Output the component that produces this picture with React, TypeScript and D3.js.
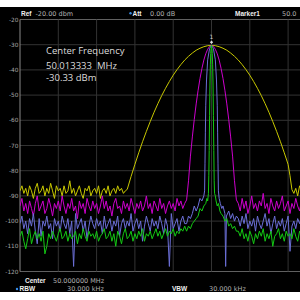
import React from "react";
import * as d3 from "d3";

// ---- Axis / tick data ----
const dbTicks = [-20, -30, -40, -50, -60, -70, -80, -90, -100, -110, -120];
const freqGrid = [-500, -400, -300, -200, -100, 0, 100, 200, 300, 400, 500];

// ---- Trace data (offset from center in kHz, level in dBm) ----
// noise samples every 5 kHz
const yellowLeft = [
  -88,-86,-89,-87,-90,-86,-88,-91,-87,-85,-89,-88,-86,-90,-87,-89,-85,-88,-91,-86,
  -88,-87,-90,-86,-89,-88,-84,-89,-87,-90,-88,-86,-89,-91,-87,-88,-86,-90,-88,-87,
  -89,-86,-91,-88,-87,-89,-86,-90,-88,-87,-89,-86,-88,-87,-89,-88,
];
const yellowPeak: [number, number][] = [
  [-220,-87.4],[-210,-82.3],[-200,-77.5],[-190,-72.9],[-180,-68.5],[-170,-64.4],[-160,-60.5],
  [-150,-56.8],[-140,-53.4],[-130,-50.2],[-120,-47.3],[-110,-44.6],[-100,-42.1],[-90,-39.9],
  [-80,-37.9],[-70,-36.1],[-60,-34.6],[-50,-33.3],[-40,-32.2],[-30,-31.4],[-20,-30.8],[-10,-30.4],
  [0,-30.3],[10,-30.4],[20,-30.8],[30,-31.4],[40,-32.2],[50,-33.3],[60,-34.6],[70,-36.1],
  [80,-37.9],[90,-39.9],[100,-42.1],[110,-44.6],[120,-47.3],[130,-50.2],[140,-53.4],[150,-56.8],
  [160,-60.5],[170,-64.4],[180,-68.5],[190,-72.9],[200,-77.5],[205,-82],[210,-87.5],
];
const yellowRight = [-89,-87,-90,-86,-88,-89];

const magentaLeft = [
  -94,-91,-96,-93,-97,-92,-95,-98,-93,-90,-96,-94,-92,-97,-95,-91,-94,-98,-93,-95,
  -92,-96,-90,-94,-97,-93,-95,-91,-96,-94,-99,-92,-95,-93,-97,-91,-94,-96,-92,-95,
  -93,-97,-94,-90,-95,-92,-96,-94,-98,-93,-91,-95,-94,-97,-92,-95,-93,-96,-91,-94,
  -97,-93,-95,-92,-96,-94,-90,-95,-93,-97,-92,-94,-96,-91,-95,-93,-97,-94,-92,-95,
  -93,-96,-91,-94,-92,-95,-93,
];
const magentaPeak: [number, number][] = [
  [-65,-91.6],[-60,-84],[-55,-74.2],[-50,-66.6],[-45,-59.7],[-40,-53.5],[-35,-48.1],[-30,-43.4],
  [-25,-39.4],[-20,-36.1],[-15,-33.6],[-10,-31.8],[-5,-30.7],[0,-30.3],[5,-30.7],[10,-31.8],
  [15,-33.6],[20,-36.1],[25,-39.4],[30,-43.4],[35,-48.1],[40,-53.5],[45,-59.7],[50,-66.6],
  [55,-74.2],[60,-84],[65,-91.6],
];
const magentaRight = [
  -93,-96,-91,-95,-92,-97,-94,-90,-95,-93,-96,-92,-94,-89,-95,-93,-97,-91,-94,-96,
  -92,-95,-93,-90,-96,-94,-92,-97,-93,-95,-91,-94,-96,-92,-95,
];

const blueLeft = [
  -101,-98,-103,-100,-105,-99,-102,-97,-104,-109,-99,-106,-100,-102,-98,-103,-101,-107,-99,-102,
  -100,-104,-98,-101,-103,-99,-105,-100,-118,-97,-103,-101,-99,-104,-100,-107,-102,-98,-101,-103,
  -99,-102,-100,-105,-98,-103,-101,-99,-104,-100,-102,-98,-106,-101,-99,-103,-100,-102,-97,-104,
  -101,-99,-103,-100,-108,-102,-98,-101,-104,-99,-102,-100,-103,-98,-101,-105,-99,-102,-118,-97,
  -103,-101,-99,-104,-100,-98,-101,
];
const bluePeak: [number, number][] = [
  [-65,-101],[-60,-98],[-55,-99],[-50,-97],[-45,-94],[-40,-96],[-35,-94],[-30,-91],[-25,-92],
  [-20,-90],[-18,-88],[-17,-77],[-16,-65],[-15,-54],[-13,-44],[-10,-36],[-5,-31.5],[0,-30.3],
  [5,-31.5],[10,-36],[13,-44],[15,-54],[16,-65],[17,-77],[18,-88],[20,-91],[23,-93],[27,-95],
  [30,-94],[35,-97],[37,-118],[39,-98],[45,-96],[50,-99],[55,-97],[60,-100],[65,-98],
];
const blueRight = [
  -99,-102,-98,-101,-97,-103,-100,-102,-99,-104,-98,-101,-103,-100,-97,-102,-99,-105,-101,-98,
  -103,-100,-102,-99,-104,-101,-98,-112,-102,-100,-103,-99,-101,-98,-102,
];

const greenLeft = [
  -106,-104,-108,-111,-107,-103,-109,-106,-104,-107,-105,-108,-104,-113,-110,-105,-107,-104,-106,-108,
  -105,-103,-107,-106,-104,-108,-105,-107,-106,-104,-109,-105,-107,-103,-106,-108,-104,-106,-105,-107,
  -104,-108,-106,-105,-103,-107,-106,-104,-108,-105,-110,-104,-106,-109,-105,-103,-107,-106,-104,-108,
  -105,-107,-104,-106,-103,-108,-105,-106,-104,-107,-105,-103,-106,-104,-107,-105,-103,-106,-104,-105,
  -103,-106,-104,-105,-103,-104,-102,
];
const greenPeak: [number, number][] = [
  [-65,-104],[-60,-102],[-55,-103],[-50,-101],[-45,-100],[-40,-99],[-35,-98],[-30,-95],[-25,-96],
  [-20,-94],[-15,-93],[-12,-91],[-10,-92],[-8,-89],[-7,-82],[-6,-72],[-5,-58],[-4,-46],[-3,-38],
  [-2,-33.5],[-1,-31],[0,-30.3],[1,-31],[2,-33.5],[3,-38],[4,-46],[5,-58],[6,-72],[7,-84],[8,-89],
  [10,-90],[12,-92],[15,-94],[18,-93],[22,-96],[25,-97],[30,-98],[35,-100],[40,-99],[45,-102],
  [50,-101],[55,-103],[60,-102],[65,-104],
];
const greenRight = [
  -104,-106,-103,-107,-105,-108,-104,-106,-109,-105,-107,-104,-106,-103,-108,-105,-107,-104,-110,-106,
  -105,-103,-107,-105,-108,-104,-106,-105,-107,-103,-106,-108,-104,-106,-105,
];

const NOISE_START = -500;
const NOISE_STEP = 5;

function buildTrace(left: number[], peak: [number, number][], right: number[], rightStart: number) {
  const pts: [number, number][] = [];
  left.forEach((v, i) => pts.push([NOISE_START + NOISE_STEP * i, v]));
  peak.forEach((p) => pts.push(p));
  right.forEach((v, i) => pts.push([rightStart + NOISE_STEP * i, v]));
  return pts;
}

const traces = [
  { name: "yellow", color: "#c8c800", pts: buildTrace(yellowLeft, yellowPeak, yellowRight, 215) },
  { name: "magenta", color: "#cc00cc", pts: buildTrace(magentaLeft, magentaPeak, magentaRight, 70) },
  { name: "blue", color: "#6b6fd6", pts: buildTrace(blueLeft, bluePeak, blueRight, 70) },
  { name: "green", color: "#14c814", pts: buildTrace(greenLeft, greenPeak, greenRight, 70) },
];

const PEAK_DB = -30.3;
const BOLD = "'Liberation Sans', Arial, sans-serif";
const VAL = "'DejaVu Sans', sans-serif";
const NOTE = "'Open Sans', sans-serif";

export default function App() {
  const x = d3.scaleLinear().domain([-500, 500]).range([20, 403]);
  const y = d3.scaleLinear().domain([-20, -120]).range([19.5, 271.5]);
  const line = d3
    .line<[number, number]>()
    .x((d) => x(d[0]))
    .y((d) => y(d[1]));

  const left = 20;
  const right = 300;
  const top = y(-20);
  const bottom = y(-120);
  const px = x(0);
  const py = y(PEAK_DB);

  const hdr = 6.5;

  return (
    <svg width={300} height={300} style={{ position: "absolute", left: 0, top: 0 }}>
      <rect x={0} y={0} width={300} height={300} fill="#ffffff" />
      <rect x={0} y={7} width={300} height={285} fill="#000000" />
      <defs>
        <clipPath id="plotClip">
          <rect x={left} y={top - 1} width={right - left} height={bottom - top + 2} />
        </clipPath>
      </defs>

      {/* grid */}
      {dbTicks.map((t) => (
        <line key={"h" + t} x1={left} x2={right} y1={y(t)} y2={y(t)}
          stroke={t === -20 || t === -120 ? "#606060" : "#333333"} strokeWidth={1} />
      ))}
      {freqGrid.map((f) => (
        <line key={"v" + f} x1={x(f)} x2={x(f)} y1={top} y2={bottom}
          stroke={f === -500 ? "#8a8a8a" : "#333333"} strokeWidth={1} />
      ))}

      {/* tick labels */}
      {dbTicks.map((t) => (
        <text key={"t" + t} x={18.5} y={y(t) + 2} fontSize={5.8} fill="#a8a8a8" textAnchor="end" fontFamily={VAL}>
          {t}
        </text>
      ))}

      {/* traces */}
      <g clipPath="url(#plotClip)">
        {traces.map((tr) => (
          <path key={tr.name} d={line(tr.pts) || ""} fill="none" stroke={tr.color} strokeWidth={1} />
        ))}
      </g>

      {/* marker */}
      <path d={`M${px},${py - 5} l1.6,1.8 l-1.6,1.8 l-1.6,-1.8 z`} fill="#dddddd" />
      <text x={px} y={py - 6.5} fontSize={6} fill="#cccccc" textAnchor="middle" fontFamily={VAL}>1</text>

      {/* center frequency annotation */}
      <g fontFamily={NOTE} fontSize={9.5} fill="#dcdcdc">
        <text x={46} y={54}>Center Frequency</text>
        <text x={46} y={68.5} style={{ whiteSpace: "pre" }}>50.013333  MHz</text>
        <text x={46} y={81}>-30.33 dBm</text>
      </g>

      {/* header */}
      <g fontSize={hdr}>
        <text x={21} y={15.5} fill="#f0f0f0" fontWeight="bold" fontFamily={BOLD}>Ref</text>
        <text x={35.5} y={15.5} fill="#b0b0b0" fontFamily={VAL}>-20.00 dbm</text>
        <circle cx={130.5} cy={13.3} r={1.2} fill="#3a8ee8" />
        <text x={132.5} y={15.5} fill="#f0f0f0" fontWeight="bold" fontFamily={BOLD}>Att</text>
        <text x={150} y={15.5} fill="#b0b0b0" fontFamily={VAL}>0.00 dB</text>
        <text x={235} y={15.5} fill="#f0f0f0" fontWeight="bold" fontFamily={BOLD}>Marker1</text>
        <text x={282} y={15.5} fill="#b0b0b0" fontFamily={VAL}>50.0</text>
      </g>

      {/* footer */}
      <g fontSize={hdr}>
        <text x={25} y={282.5} fill="#f0f0f0" fontWeight="bold" fontFamily={BOLD}>Center</text>
        <text x={53} y={282.5} fill="#b0b0b0" fontFamily={VAL}>50.000000 MHz</text>
        <circle cx={17} cy={289} r={1.2} fill="#3a8ee8" />
        <text x={19.5} y={291} fill="#f0f0f0" fontWeight="bold" fontFamily={BOLD}>RBW</text>
        <text x={67} y={291} fill="#b0b0b0" fontFamily={VAL}>30.000 kHz</text>
        <text x={172} y={291} fill="#f0f0f0" fontWeight="bold" fontFamily={BOLD}>VBW</text>
        <text x={209} y={291} fill="#b0b0b0" fontFamily={VAL}>30.000 kHz</text>
      </g>
    </svg>
  );
}
